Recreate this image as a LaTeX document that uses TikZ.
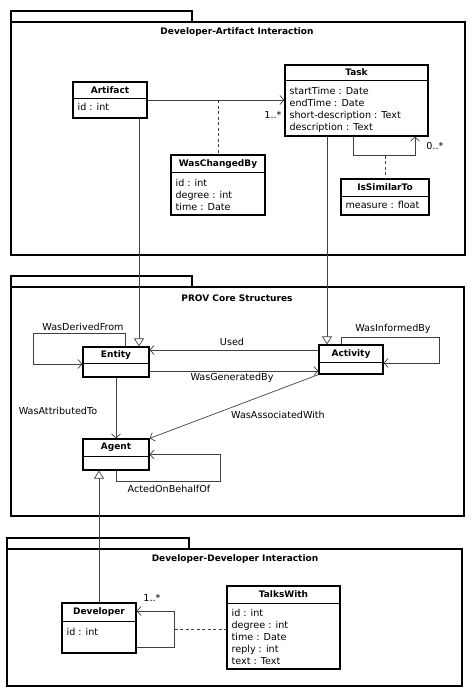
\documentclass[tikz,border=0pt]{standalone}
\usepackage{fontspec}
\setmainfont{DejaVu Sans}
\usetikzlibrary{arrows.meta}

\begin{document}
\begin{tikzpicture}[x=1pt, y=-1pt, font=\fontsize{9.6}{12}\selectfont,
    cls/.style={draw, line width=1.2pt, fill=white, inner sep=0pt},
    head/.style={anchor=north, inner sep=0pt, font=\fontsize{9}{12}\selectfont\bfseries},
    attr/.style={anchor=north west, align=left, inner xsep=5pt, inner ysep=6pt},
    pkg/.style={draw, line width=1.2pt},
    ptitle/.style={font=\fontsize{9}{12}\selectfont\bfseries},
    conn/.style={draw=black!75, line width=0.7pt},
    nav/.style={conn, -{Straight Barb[length=4pt, width=9pt]}},
    gen/.style={conn, -{Triangle[open, length=8pt, width=10pt, fill=white]}},
    assoc/.style={conn, dashed, dash pattern=on 3pt off 2.5pt}]
  \useasboundingbox (0,0) rectangle (474,694);

  % packages
  \draw[pkg] (11,22) -- (11,11) -- (192,11) -- (192,22);
  \draw[pkg] (11,22) rectangle (465,255);
  \node[ptitle] (pdai) at (237,32) {Developer-Artifact Interaction};
  \draw[pkg] (11,287) -- (11,276) -- (192,276) -- (192,287);
  \draw[pkg] (11,287) rectangle (464,516);
  \node[ptitle] (pprov) at (237,298) {PROV Core Structures};
  \draw[pkg] (7,549) -- (7,538) -- (189,538) -- (189,549);
  \draw[pkg] (7,549) rectangle (462,686);
  \node[ptitle] (pddi) at (235,559) {Developer-Developer Interaction};

  % classes
  \node[cls, minimum width=74pt, minimum height=36pt] (art) at (110,100) {};
  \node[head, minimum height=17pt] (arth) at (art.north) {Artifact};
  \draw[line width=0.8pt] (arth.south -| art.west) -- (arth.south -| art.east);
  \node[attr, inner ysep=4pt] at (arth.south -| art.west) {id : int};

  \node[cls, minimum width=143pt, minimum height=71pt] (task) at (356.5,100.5) {};
  \node[head, minimum height=16pt] (taskh) at (task.north) {Task};
  \draw[line width=0.8pt] (taskh.south -| task.west) -- (taskh.south -| task.east);
  \node[attr] at (taskh.south -| task.west) {startTime : Date\\endTime : Date\\short-description : Text\\description : Text};

  \node[cls, minimum width=94pt, minimum height=60pt] (wcb) at (218,185) {};
  \node[head, minimum height=18pt] (wcbh) at (wcb.north) {WasChangedBy};
  \draw[line width=0.8pt] (wcbh.south -| wcb.west) -- (wcbh.south -| wcb.east);
  \node[attr] at (wcbh.south -| wcb.west) {id : int\\degree : int\\time : Date};

  \node[cls, minimum width=88pt, minimum height=36pt] (sim) at (385,197) {};
  \node[head, minimum height=18pt] (simh) at (sim.north) {IsSimilarTo};
  \draw[line width=0.8pt] (simh.south -| sim.west) -- (simh.south -| sim.east);
  \node[attr, inner ysep=4pt] at (simh.south -| sim.west) {measure : float};

  \node[cls, minimum width=66pt, minimum height=30pt] (ent) at (116,362) {};
  \node[head, minimum height=17pt] (enth) at (ent.north) {Entity};
  \draw[line width=0.8pt] (enth.south -| ent.west) -- (enth.south -| ent.east);

  \node[cls, minimum width=64pt, minimum height=29pt] (act) at (351,359.5) {};
  \node[head, minimum height=18pt] (acth) at (act.north) {Activity};
  \draw[line width=0.8pt] (acth.south -| act.west) -- (acth.south -| act.east);

  \node[cls, minimum width=66pt, minimum height=31pt] (ag) at (116,454.5) {};
  \node[head, minimum height=18pt] (agh) at (ag.north) {Agent};
  \draw[line width=0.8pt] (agh.south -| ag.west) -- (agh.south -| ag.east);

  \node[cls, minimum width=74pt, minimum height=50pt] (dev) at (99,628) {};
  \node[head, minimum height=19pt] (devh) at (dev.north) {Developer};
  \draw[line width=0.8pt] (devh.south -| dev.west) -- (devh.south -| dev.east);
  \node[attr] at (devh.south -| dev.west) {id : int};

  \node[cls, minimum width=113pt, minimum height=83pt] (tw) at (283.5,627.5) {};
  \node[head, minimum height=18pt] (twh) at (tw.north) {TalksWith};
  \draw[line width=0.8pt] (twh.south -| tw.west) -- (twh.south -| tw.east);
  \node[attr, inner ysep=5pt] at (twh.south -| tw.west) {id : int\\degree : int\\time : Date\\reply : int\\text : Text};

  % developer-artifact links
  \draw[nav] (art.east) -- (art.east -| task.west);
  \node at (273,115) {1..*};
  \draw[assoc] (wcb.north |- art.east) -- (wcb.north);
  \draw[nav] ([xshift=-3.5]task.south) -- ++(0,19) coordinate (tl) -| ([xshift=58.5]task.south);
  \node at (435,146) {0..*};
  \draw[assoc] (tl -| sim.north) -- (sim.north);

  % generalizations into PROV
  \draw[gen] ([xshift=29]art.south) -- ([xshift=29]art.south |- ent.north);
  \draw[gen] ([xshift=-29.5]task.south) -- ([xshift=-29.5]task.south |- act.north);
  \draw[gen] (dev.north) -- (dev.north |- ag.south);

  % PROV relations
  \draw[nav] ([xshift=9]ent.north) |- (33,333) |- ([yshift=-2]ent.west);
  \node at (83,327) {WasDerivedFrom};
  \draw[nav] ([yshift=9.5]act.west) -- ([yshift=9.5]act.west -| ent.east);
  \node at (232,342) {Used};
  \draw[nav] ([yshift=-9]ent.east) -- ([yshift=-9]ent.east -| act.west);
  \node at (232,378) {WasGeneratedBy};
  \draw[nav] ([xshift=-10]act.north) |- (439,337) |- ([yshift=-3.5]act.east);
  \node at (393,329) {WasInformedBy};
  \draw[nav] (ent.south) -- (ag.north);
  \node at (58,411) {WasAttributedTo};
  \draw[nav] (act.south west) -- (ag.north east);
  \node at (278,415) {WasAssociatedWith};
  \draw[nav] (ag.south) |- (220,481) |- (ag.east);
  \node at (169,489) {ActedOnBehalfOf};

  % developer-developer links
  \draw[nav] ([yshift=-19]dev.east) -- ++(38,0) -- ++(0,-18) coordinate (dl) -- ++(0,-18) -- ([yshift=17]dev.east);
  \node at (152,598) {1..*};
  \draw[assoc] (dl) -- (dl -| tw.west);
\end{tikzpicture}
\end{document}
